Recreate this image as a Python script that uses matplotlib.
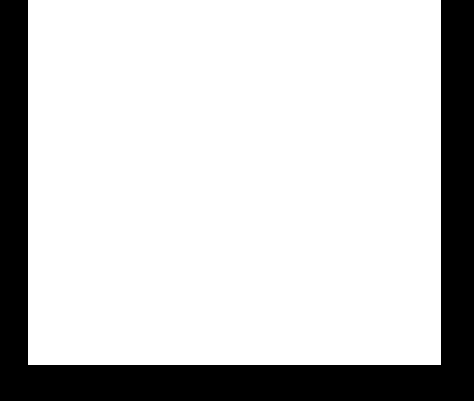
import matplotlib
matplotlib.use("Agg")
import matplotlib.pyplot as plt
from matplotlib.patches import Rectangle
import numpy as np

categories = ["[C$_4$Mim][BF$_4$]", "[C$_6$Mim][BF$_4$]", "[C$_8$Mim][BF$_4$]",
              "[C$_4$Mim][PF$_6$]", "[C$_6$Mim][PF$_6$]", "[C$_8$Mim][PF$_6$]",
              "[C$_2$Mim][NTf$_2$]", "[C$_4$Mim][NTf$_2$]", "[C$_5$Mim][NTf$_2$]",
              "[C$_6$Mim][NTf$_2$]", "[C$_7$Mim][NTf$_2$]", "[C$_8$Mim][NTf$_2$]"]
groups = ["ME-PDH", "E-PDH", "PDH"]
me_dark = [1.1, 1.2, 1.3, 0.3, 0.4, 0.5, 0.5, 0.5, 0.5, 0.5, 0.6, 0.6]
me_light = [1.8, 2.4, 3.5, 0.8, 0.9, 1.0, 1.0, 1.0, 1.0, 1.0, 1.0, 1.1]
e_dark = [3.0, 3.3, 3.7, 0.6, 0.7, 0.8, 0.8, 0.8, 0.8, 0.8, 0.9, 0.9]
e_light = [4.0, 4.4, 5.5, 1.2, 1.3, 1.3, 1.3, 1.3, 1.4, 1.4, 1.4, 1.4]
p_dark = [4.8, 5.0, 5.3, 1.0, 1.2, 1.3, 1.3, 1.3, 1.3, 1.3, 1.3, 1.4]
p_light = [5.5, 5.8, 6.0, 2.5, 3.5, 2.0, 2.0, 1.8, 1.5, 1.5, 1.2, 1.2]

rows = [(me_dark, 0.0, "#1d5a33"), (me_light, 0.5, "#3cb66a"),
        (e_dark, 1.0, "#a32020"), (e_light, 1.5, "#e0504a"),
        (p_dark, 2.0, "#0b30a8"), (p_light, 2.5, "#5f80cc")]

fig = plt.figure(figsize=(4.74, 4.02), dpi=100)
fig.patch.set_facecolor("black")
fig.patches.append(Rectangle((0.06, 0.09), 0.87, 0.91, transform=fig.transFigure,
                             facecolor="white", edgecolor="none", zorder=0))
ax = fig.add_axes([0.02, 0.09, 0.95, 0.91], projection="3d")
ax.patch.set_alpha(0)
x = np.arange(len(categories))
for vals, yoff, col in rows:
    ax.bar3d(x, np.full(len(x), yoff), np.zeros(len(x)), 0.8, 0.45, vals,
             color=col, shade=True, edgecolor="none")
ax.set_xticks(x + 0.4)
ax.set_xticklabels(categories, fontsize=8, rotation=28, ha="right", va="center")
ax.tick_params(axis="x", pad=-2)
ax.set_yticks([0.45, 1.45, 2.45])
ax.set_yticklabels(groups, fontsize=9, fontweight="bold")
ax.set_zticks(range(6))
ax.tick_params(axis="z", labelsize=5, pad=0)
ax.set_zlim(0, 6)
ax.view_init(elev=25, azim=-42)
ax.set_box_aspect(None, zoom=1.12)
for a in (ax.xaxis, ax.yaxis, ax.zaxis):
    a.pane.set_facecolor((0.97, 0.97, 0.97, 1))
fig.savefig("out.png", dpi=100, facecolor="black")
